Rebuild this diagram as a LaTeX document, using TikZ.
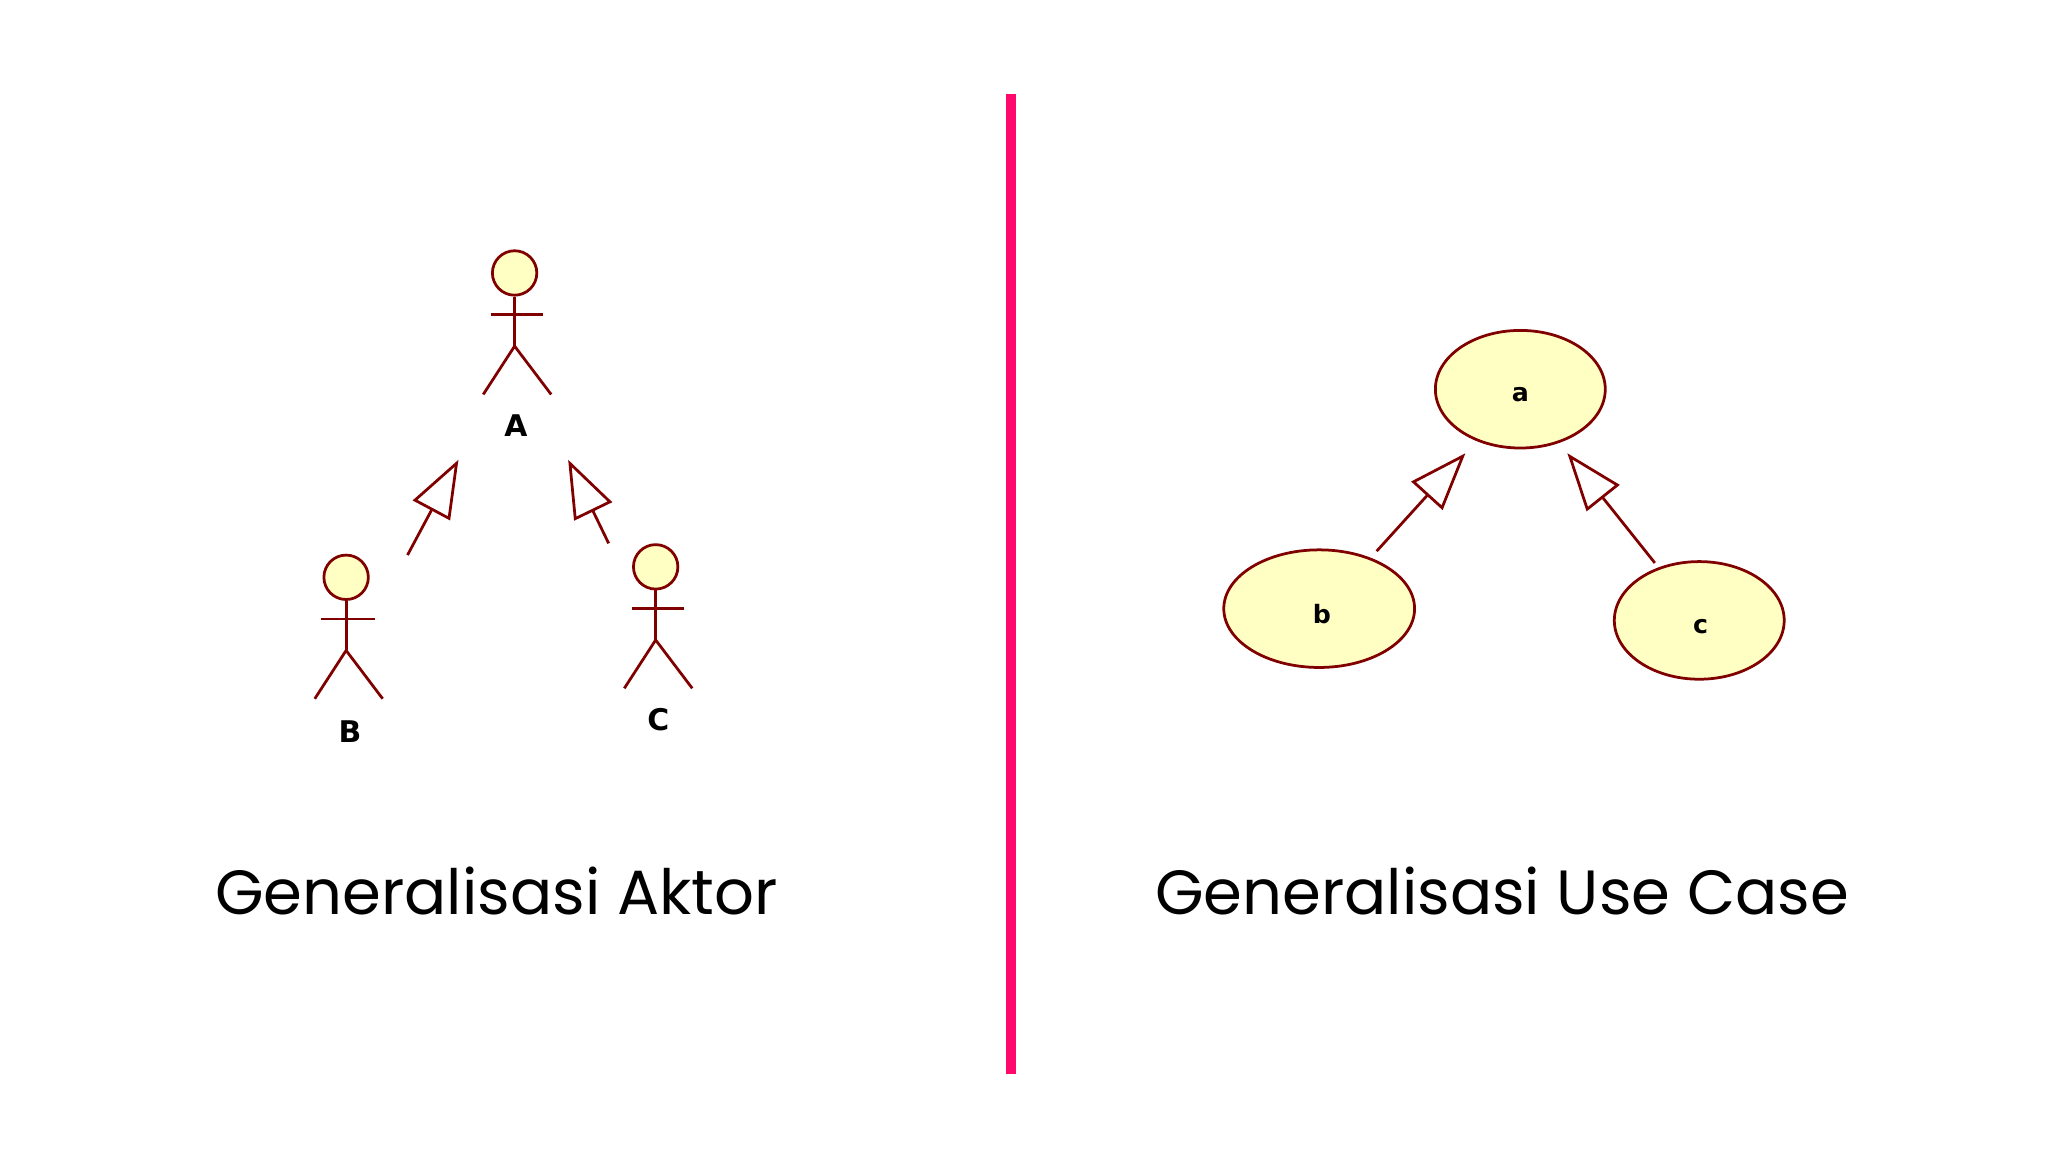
\documentclass[tikz,border=0pt]{standalone}
\usepackage{fontspec}
\setmainfont{Poppins}
\newfontfamily\lblfont{DejaVu Sans}
\usetikzlibrary{arrows.meta,shapes.geometric}
\definecolor{umlred}{HTML}{800000}
\definecolor{umlfill}{HTML}{FFFFC4}
\definecolor{pinkline}{HTML}{FF0A6C}
\tikzset{
  actorline/.style={draw=umlred, line width=0.6pt},
  head/.style={circle, draw=umlred, fill=umlfill, line width=0.6pt, minimum size=0.34cm, inner sep=0pt},
  usecase/.style={ellipse, draw=umlred, fill=umlfill, line width=0.6pt, inner sep=0pt},
  gen/.style={draw=umlred, line width=0.6pt, -{Triangle[open, length=0.44cm, width=0.32cm, fill=white]}},
  actorlbl/.style={font=\lblfont\bfseries\fontsize{6.5}{7}\selectfont},
  uclbl/.style={font=\lblfont\bfseries\fontsize{5.5}{6}\selectfont},
  title/.style={font=\fontsize{13.6}{16}\selectfont}
}
\begin{document}
\begin{tikzpicture}[x=0.01cm, y=-0.01cm]
\useasboundingbox (0,0) rectangle (1568,882);
\fill[white] (0,0) rectangle (1568,882);
\draw[pinkline, line width=2.0pt] (774,72) -- (774,822);
% actor A
\node[head] (hA) at (394,209) {};
\draw[actorline] (hA.south) -- (394,265) coordinate (wA);
\draw[actorline] (376,241) -- (416,241);
\draw[actorline] (370,302) -- (wA) -- (422,302);
\node[actorlbl] (lA) at (395,326) {A};
% actor B
\node[head] (hB) at (265,442) {};
\draw[actorline] (hB.south) -- (265,498) coordinate (wB);
\draw[actorline] (246,474) -- (287,474);
\draw[actorline] (241,535) -- (wB) -- (293,535);
\node[actorlbl] (lB) at (268,560) {B};
% actor C
\node[head] (hC) at (502,434) {};
\draw[actorline] (hC.south) -- (502,490) coordinate (wC);
\draw[actorline] (484,466) -- (524,466);
\draw[actorline] (478,527) -- (wC) -- (530,527);
\node[actorlbl] (lC) at (504,551) {C};
% generalisation arrows actors
\coordinate (b1) at (312,425); \coordinate (b2) at (351,352);
\coordinate (c1) at (466,416); \coordinate (c2) at (435,352);
\draw[gen] (b1) -- (b2);
\draw[gen] (c1) -- (c2);
% use cases
\node[usecase, minimum width=1.30cm, minimum height=0.90cm] (a) at (1164,298) {};
\node[uclbl] at (1164,302) {a};
\node[usecase, minimum width=1.46cm, minimum height=0.90cm] (b) at (1010,466) {};
\node[uclbl] at (1012,470) {b};
\node[usecase, minimum width=1.30cm, minimum height=0.90cm] (c) at (1301,475) {};
\node[uclbl] at (1302,480) {c};
\coordinate (ub1) at (1054,422); \coordinate (ub2) at (1122,347);
\coordinate (uc1) at (1267,431); \coordinate (uc2) at (1200,347);
\draw[gen] (ub1) -- (ub2);
\draw[gen] (uc1) -- (uc2);
% titles
\node[title] (t1) at (380,682) {Generalisasi Aktor};
\node[title] (t2) at (1150,682) {Generalisasi Use Case};
\end{tikzpicture}
\end{document}
